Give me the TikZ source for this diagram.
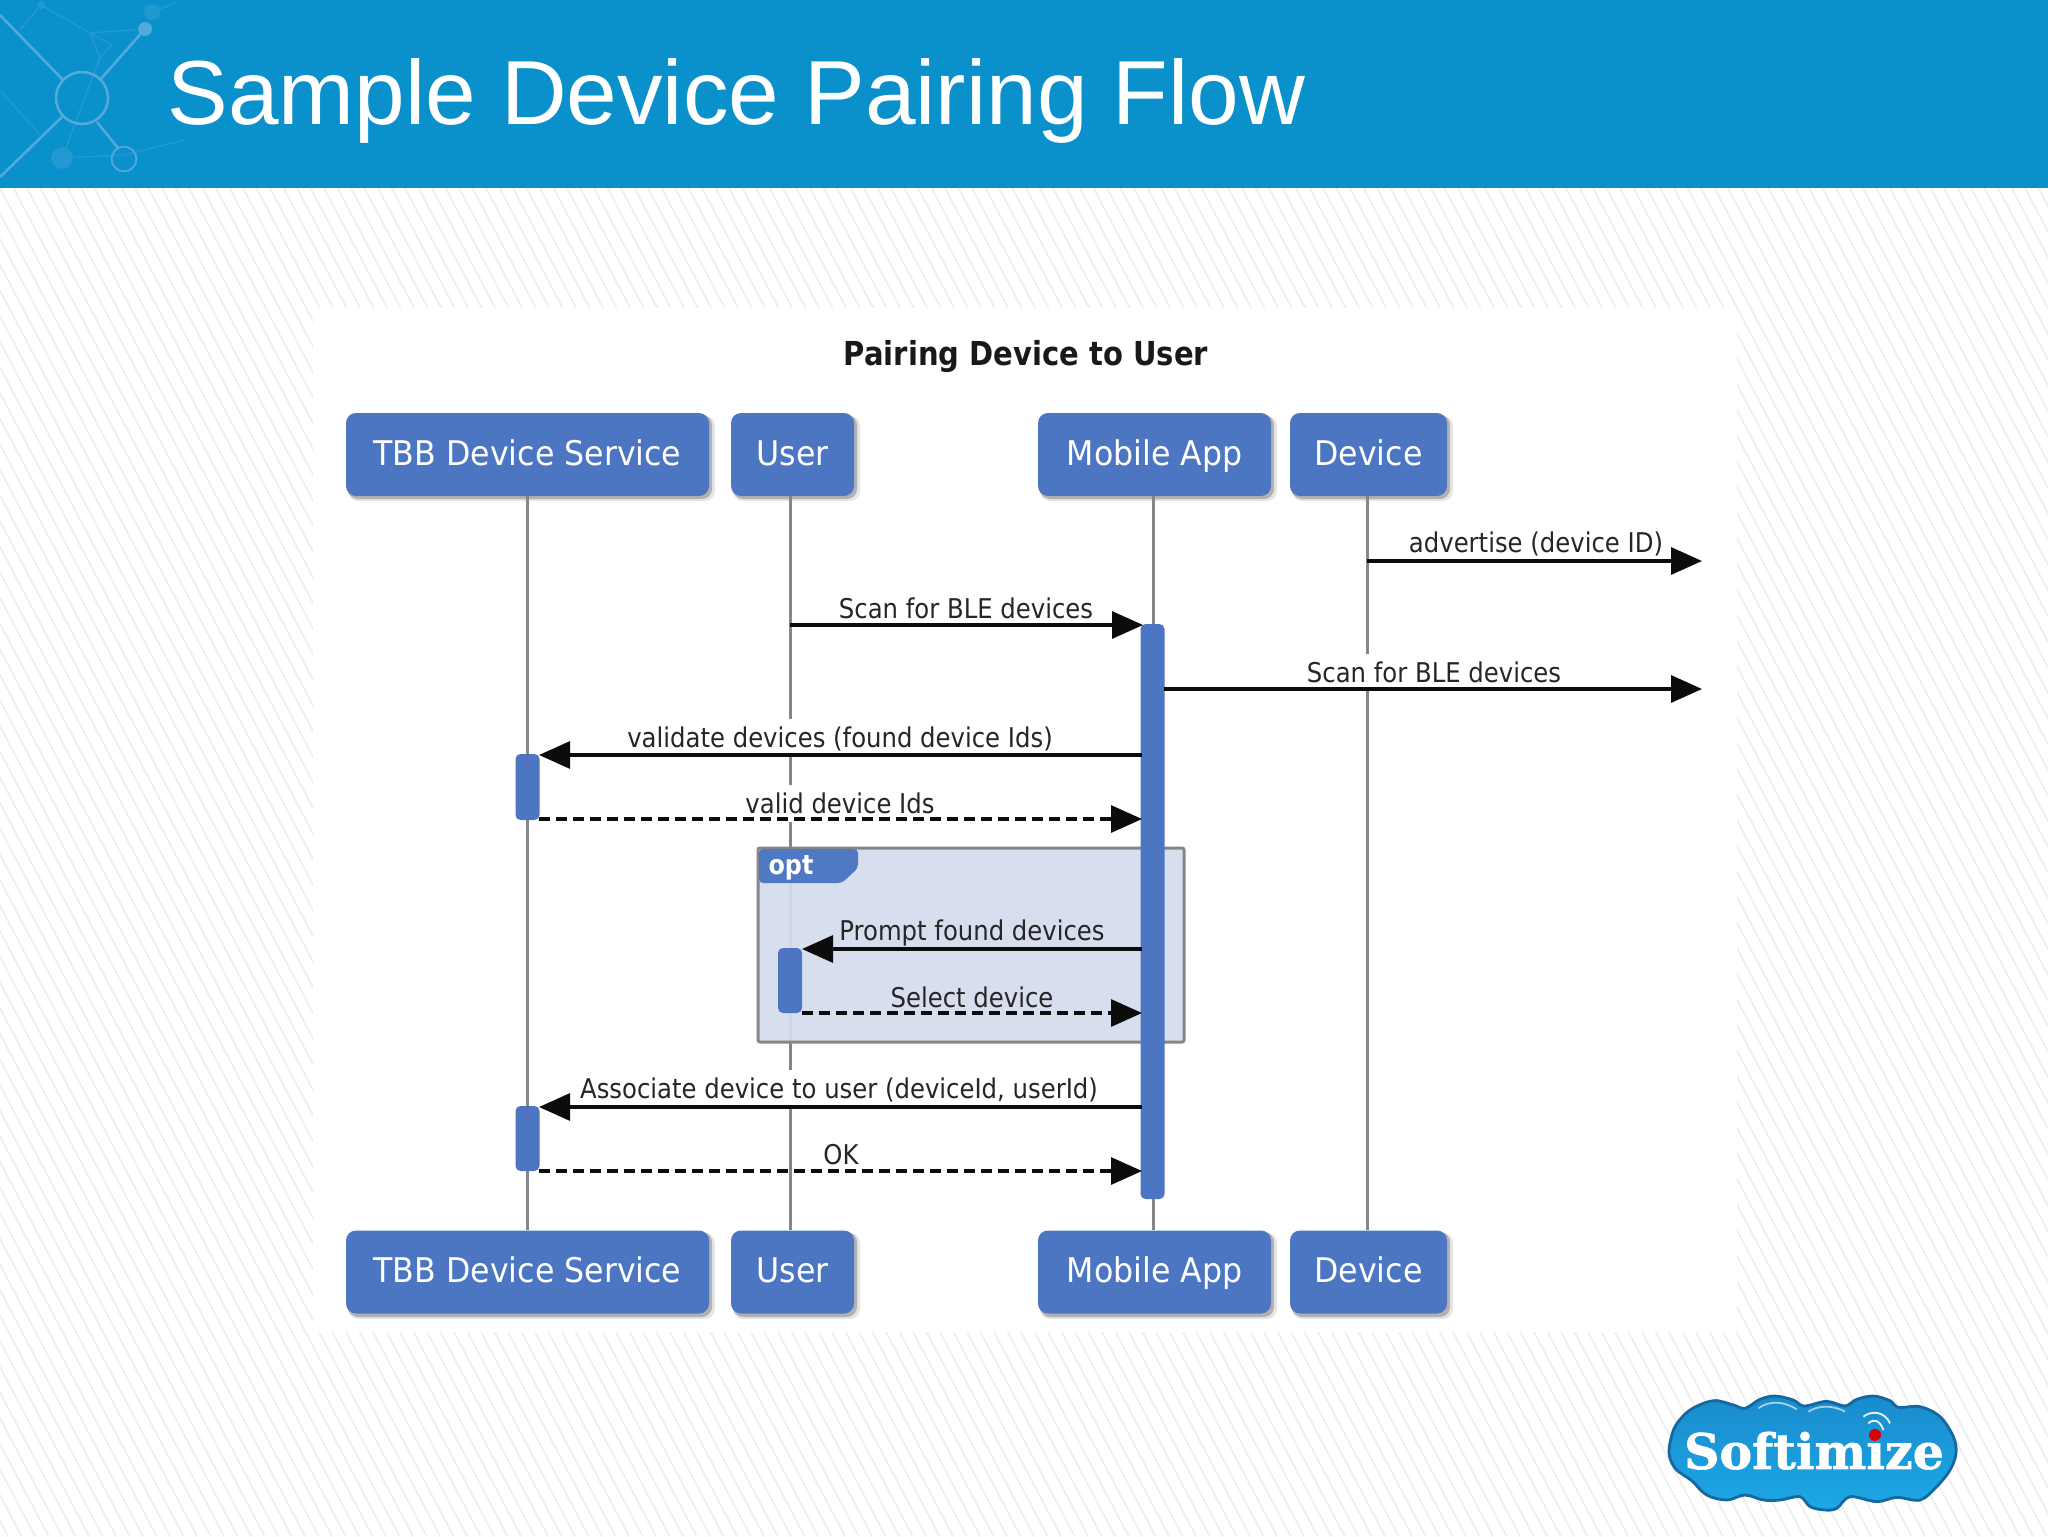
\documentclass[tikz,border=0pt]{standalone}
\usepackage{fontspec}
\setmainfont{DejaVu Sans}
\newfontfamily\titlefont{Liberation Sans}
\newfontfamily\logofont[BoldFeatures={FakeBold=1.2}]{DejaVu Serif}
\newfontfamily\actorfont[FakeStretch=0.93]{DejaVu Sans}
\newfontfamily\labelfont[FakeStretch=0.895]{DejaVu Sans}
\newfontfamily\headfont[FakeStretch=0.88]{DejaVu Sans}
\usetikzlibrary{arrows.meta,calc}
\definecolor{hdr}{HTML}{0A90CB}
\definecolor{deco}{HTML}{52A9DB}
\definecolor{decofaint}{HTML}{2298D0}
\definecolor{stripe}{HTML}{EDEDED}
\definecolor{boxblue}{HTML}{4C76C2}
\definecolor{life}{HTML}{868686}
\definecolor{frameback}{HTML}{D4DCEC}
\definecolor{msg}{HTML}{0C0C0C}
\definecolor{cloudedge}{HTML}{14689F}
\definecolor{cloudtop}{HTML}{1A8BCD}
\definecolor{cloudbot}{HTML}{1CA8E6}
\tikzset{
  actor/.style={fill=boxblue,rounded corners=5pt,inner sep=0pt,minimum height=41.5pt,text=white,
    text height=12.4pt,text depth=1.5pt,font=\actorfont\fontsize{17pt}{17pt}\selectfont},
  shade box/.style={fill=black,rounded corners=5pt},
  lifeline/.style={draw=life,line width=1.5pt},
  activation/.style={fill=boxblue,rounded corners=2.5pt,inner sep=0pt,minimum width=12pt},
  call/.style={draw=msg,line width=1.6pt,-{Triangle[length=15.5pt,width=13.5pt]}},
  reply/.style={call,dash pattern=on 5.5pt off 3pt},
  lbl/.style={font=\labelfont\fontsize{13.6pt}{14pt}\selectfont,text=black!85,inner xsep=1pt,
    text height=10pt,text depth=0pt,inner ysep=4.25pt},
  lblw/.style={lbl,fill=white,inner xsep=2pt},
  deco line/.style={draw=deco,line width=1.3pt},
  faint line/.style={draw=decofaint,line width=.8pt},
}
\begin{document}
\begin{tikzpicture}[x=0.5pt,y=-0.5pt]
\useasboundingbox (0,0) rectangle (2048,1536);
% slide background
\fill[white] (0,0) rectangle (2048,1536);
\begin{scope}
\clip (0,188) rectangle (2048,1536);
\foreach \i in {-60,...,160}{
  \draw[stripe,line width=.8pt] ({\i*13.5},188) -- ({\i*13.5+710},1536);
}
\end{scope}
% header
\fill[hdr] (0,0) rectangle (2048,188);
\draw[faint line] (41,5) -- (90,33) -- (145,29);
\draw[faint line] (90,33) -- (112,45) -- (100,58) -- (90,33);
\draw[faint line] (41,5) -- (20,30);
\draw[faint line] (152,12) -- (175,3);
\draw[faint line] (100,58) -- (62,158);
\draw[faint line] (62,158) -- (124,155) -- (185,140);
\draw[faint line] (0,90) -- (40,135);
\fill[decofaint] (62,158) circle[radius=5.5pt];
\fill[decofaint] (152,12) circle[radius=4pt];
\fill[decofaint] (41,5) circle[radius=2pt];
\draw[deco line] (82,98) circle[radius=13pt];
\draw[deco line] (0,15) -- (63,80);
\draw[deco line] (100,80) -- (145,29);
\draw[deco line] (62,117) -- (0,177);
\draw[deco line] (97,122) -- (118,148);
\fill[deco] (145,29) circle[radius=3.5pt];
\draw[deco line,line width=.9pt] (124,159) circle[radius=6.2pt];
\node[anchor=base west,inner sep=0pt,text=white,font=\titlefont\fontsize{45.5pt}{46pt}\selectfont] (title) at (167,125) {Sample Device Pairing Flow};
% panel
\fill[white] (313,308) rectangle (1737,1332);
\node[font=\headfont\bfseries\fontsize{16.5pt}{17pt}\selectfont,text=black!90,inner sep=0pt,text height=12pt,text depth=0pt] (dtitle) at (1026,353) {Pairing Device to User};
% shadows
\foreach \a/\b in {346/709,731/854,1038/1271,1290/1447}{
  \fill[shade box,opacity=.10] (\a+2,416) rectangle (\b+6,501);
  \fill[shade box,opacity=.22] (\a+2,415) rectangle (\b+3,499);
  \fill[shade box,opacity=.10] (\a+2,1233) rectangle (\b+6,1319);
  \fill[shade box,opacity=.22] (\a+2,1232) rectangle (\b+3,1317);
}
% actors
\node[actor,minimum width=181.5pt] (tbbT) at (527.5,454.5) {TBB Device Service};
\node[actor,minimum width=61.5pt] (userT) at (792.5,454.5) {User};
\node[actor,minimum width=116.5pt] (appT) at (1154.5,454.5) {Mobile App};
\node[actor,minimum width=78.5pt] (devT) at (1368.5,454.5) {Device};
\node[actor,minimum width=181.5pt] (tbbB) at (527.5,1272) {TBB Device Service};
\node[actor,minimum width=61.5pt] (userB) at (792.5,1272) {User};
\node[actor,minimum width=116.5pt] (appB) at (1154.5,1272) {Mobile App};
\node[actor,minimum width=78.5pt] (devB) at (1368.5,1272) {Device};
% end points
\coordinate (outA) at (1702,561);
\coordinate (outB) at (1702,689);
\coordinate (devS) at (1367,561);
\coordinate (userS) at (790,625);
\coordinate (appA) at (1143,625);
\coordinate (appB1) at (1164,689);
\coordinate (appC) at (1142,755);
\coordinate (tbbA) at (539,755);
\coordinate (tbbC) at (539,819);
\coordinate (appD) at (1142,819);
\coordinate (appE) at (1142,949);
\coordinate (usrE) at (802,949);
\coordinate (usrF) at (802,1013);
\coordinate (appF) at (1142,1013);
\coordinate (appG) at (1142,1107);
\coordinate (tbbG) at (539,1107);
\coordinate (tbbH) at (539,1171);
\coordinate (appH) at (1142,1171);
% lifelines
\draw[lifeline] (tbbT.south) -- (tbbB.north);
\draw[lifeline] (userT.south -| userS) -- (userB.north -| userS);
\draw[lifeline] (appT.south) ++(-1.5,0) -- ($(appB.north)+(-1.5,0)$);
\draw[lifeline] (devT.south -| devS) -- (devB.north -| devS);
% opt frame
\fill[frameback,opacity=.93] (758,848) rectangle (1184,1042);
\draw[life,line width=1.5pt,rounded corners=1pt] (758,848) rectangle (1184,1042);
\fill[boxblue,opacity=.97,rounded corners=2pt] (759,849) -- (858,849) -- (858,868) -- (842,883) -- (759,883) -- cycle;
\node[text=white,inner sep=0pt,text height=7.5pt,text depth=0pt,font=\headfont\bfseries\fontsize{13.5pt}{14pt}\selectfont] (opt) at (791,867) {opt};
% activations
\node[activation,minimum height=287.5pt] (acApp) at (1152.5,911.5) {};
\node[activation,minimum height=33pt] (acTbb1) at (527.5,787) {};
\node[activation,minimum height=32.5pt] (acUser) at (790,980.5) {};
\node[activation,minimum height=32.5pt] (acTbb2) at (527.5,1138.5) {};
% messages
\node[lblw] (l1) at (1536,542) {advertise (device ID)};
\node[lblw] (l2) at (966,608) {Scan for BLE devices};
\node[lblw] (l3) at (1434,672) {Scan for BLE devices};
\node[lblw] (l4) at (840,737) {validate devices (found device Ids)};
\node[lblw] (l5) at (840,803) {valid device Ids};
\node[lbl] (l6) at (972,930) {Prompt found devices};
\node[lbl] (l7) at (972,997) {Select device};
\node[lblw] (l8) at (839,1088) {Associate device to user (deviceId, userId)};
\node[lblw] (l9) at (841,1154) {OK};
\draw[call] (devS) -- (outA);
\draw[call] (userS) -- (appA);
\draw[call] (appB1) -- (outB);
\draw[call] (appC) -- (tbbA);
\draw[reply] (tbbC) -- (appD);
\draw[call] (appE) -- (usrE);
\draw[reply] (usrF) -- (appF);
\draw[call] (appG) -- (tbbG);
\draw[reply] (tbbH) -- (appH);
% logo
\begin{scope}[shift={(1620,1360)},x=.16667pt,y=-.16667pt]
\path[draw=cloudedge,line width=1.4pt,top color=cloudtop,bottom color=cloudbot]
  plot[smooth cycle,tension=.55] coordinates {(148,260)(165,200)(210,150)(280,122)(340,135)(375,145)(420,118)(465,108)(520,120)(552,138)(620,124)(675,138)(710,118)(760,108)(810,122)(835,142)(900,140)(960,170)(1000,230)(1008,280)(990,330)(950,380)(900,420)(830,412)(770,425)(690,410)(650,445)(615,450)(570,440)(540,410)(480,420)(430,420)(375,405)(320,420)(260,405)(215,362)(170,330)(150,295)};
\draw[white,opacity=.6,line width=.9pt] (415,145) .. controls (445,122) and (490,122) .. (530,148);
\draw[white,opacity=.6,line width=.9pt] (565,155) .. controls (595,135) and (640,135) .. (675,155);
\draw[white,opacity=.9,line width=.9pt] (730,170) .. controls (755,150) and (795,155) .. (810,190);
\draw[white,opacity=.9,line width=.9pt] (745,190) .. controls (760,175) and (780,180) .. (790,210);
\node[inner sep=0pt,text=white,font=\logofont\bfseries\fontsize{24.5pt}{25pt}\selectfont] (logo) at (582,272) {Softimize};
\fill[red!85!black] (765,225) circle[radius=3pt];
\end{scope}
\end{tikzpicture}
\end{document}
